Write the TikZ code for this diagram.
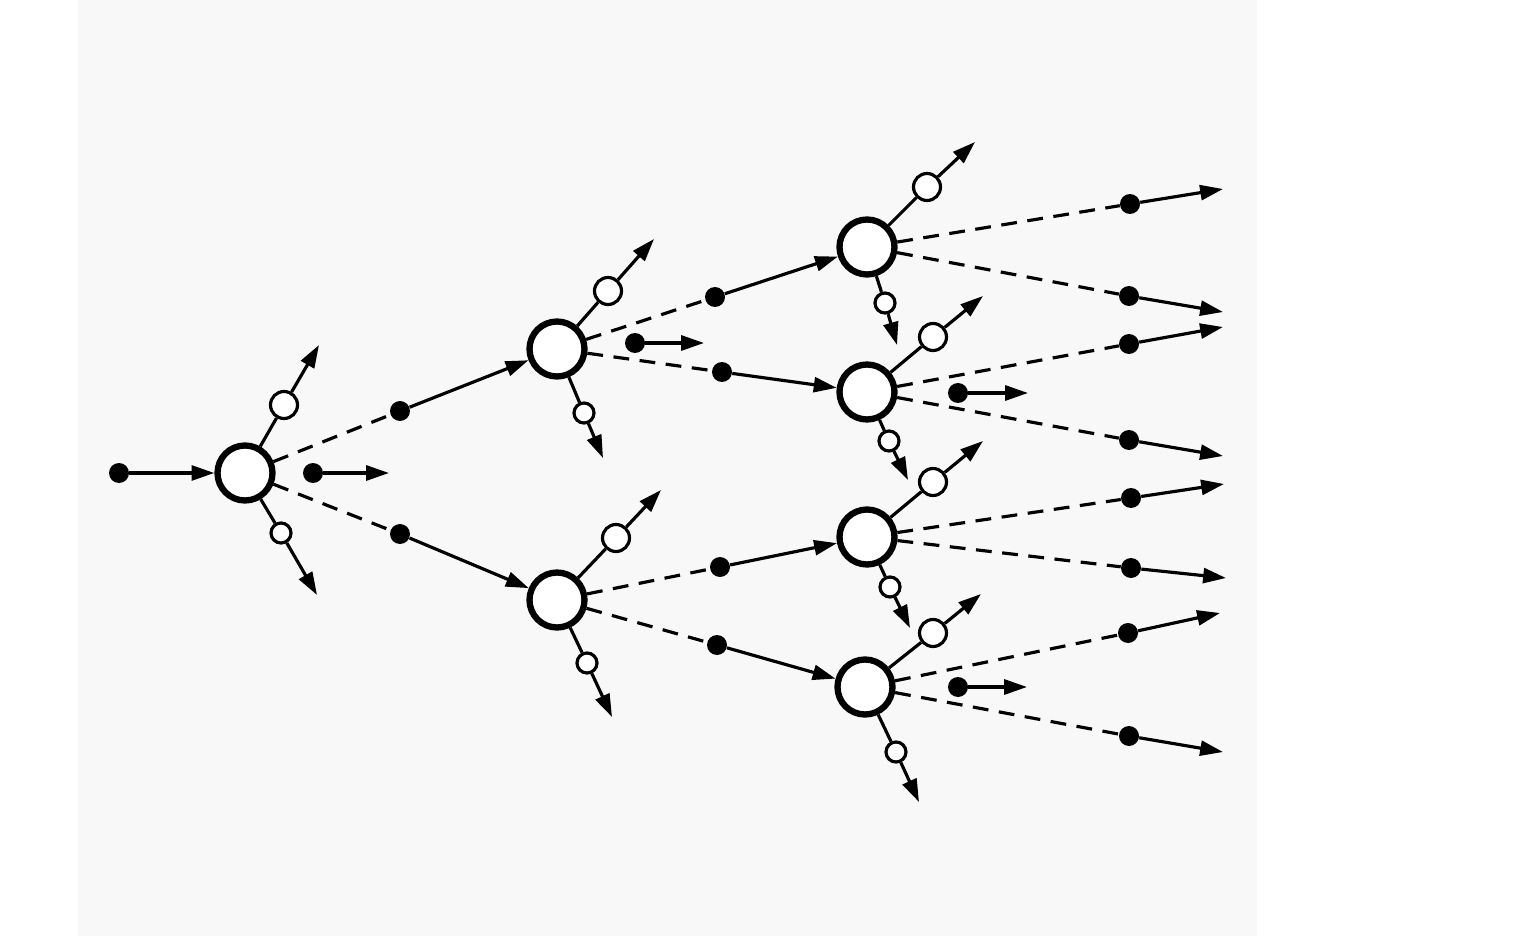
\documentclass[tikz,border=0pt]{standalone}
\usepackage{tikz}
\usetikzlibrary{arrows.meta}
\definecolor{paper}{RGB}{248,248,248}
\tikzset{
  nucleus/.style={shape=circle,draw=black,fill=white,line width=3.6pt,minimum size=1.1cm,inner sep=0pt},
  neutron/.style={shape=circle,fill=black,minimum size=0.4cm,inner sep=0pt},
  heavy/.style={shape=circle,draw=black,fill=white,line width=1.8pt,minimum size=0.54cm,inner sep=0pt},
  light/.style={shape=circle,draw=black,fill=white,line width=1.8pt,minimum size=0.4cm,inner sep=0pt},
  track/.style={line width=1.8pt,draw=black},
  flight/.style={track,-{Triangle[length=13pt,width=8.5pt]}},
  split/.style={track,dash pattern=on 9pt off 6pt}
}

\begin{document}
\begin{tikzpicture}[x=0.02cm,y=-0.02cm]
  \fill[white] (0,0) rectangle (1536,936);
  \fill[paper] (78,0) rectangle (1257,936);
  \useasboundingbox (0,0) rectangle (1536,936);
  % nuclei
  \node[nucleus] (n0) at (245,473) {};
  \node[nucleus] (n1) at (557,349) {};
  \node[nucleus] (n2) at (557,600) {};
  \node[nucleus] (n3) at (867,247) {};
  \node[nucleus] (n4) at (867,392) {};
  \node[nucleus] (n5) at (867,537) {};
  \node[nucleus] (n6) at (865,687) {};
  % fragments
  \node[heavy] (h0) at (284,405) {};  \coordinate (ha0) at (319,345);
  \node[heavy] (h1) at (608,291) {};  \coordinate (ha1) at (654,239);
  \node[heavy] (h2) at (616,538) {};  \coordinate (ha2) at (661,490);
  \node[heavy] (h3) at (927,187) {};  \coordinate (ha3) at (975,142);
  \node[heavy] (h4) at (933,337) {};  \coordinate (ha4) at (983,296);
  \node[heavy] (h5) at (933,482) {};  \coordinate (ha5) at (983,441);
  \node[heavy] (h6) at (933,633) {};  \coordinate (ha6) at (981,594);
  \node[light] (l0) at (281,533) {};  \coordinate (la0) at (317,595);
  \node[light] (l1) at (584,413) {};  \coordinate (la1) at (603,458);
  \node[light] (l2) at (587,663) {};  \coordinate (la2) at (612,717);
  \node[light] (l3) at (885,303) {};  \coordinate (la3) at (897,345);
  \node[light] (l4) at (889,441) {};  \coordinate (la4) at (908,480);
  \node[light] (l5) at (890,587) {};  \coordinate (la5) at (910,628);
  \node[light] (l6) at (896,752) {};  \coordinate (la6) at (919,802);
  % neutrons
  \node[neutron] (s0) at (119,473) {};
  \node[neutron] (d1) at (400,411) {};
  \node[neutron] (d2) at (400,534) {};
  \node[neutron] (d3) at (715,297) {};
  \node[neutron] (d4) at (722,372) {};
  \node[neutron] (d5) at (720,567) {};
  \node[neutron] (d6) at (717,645) {};
  \node[neutron] (m0) at (313,473) {};  \coordinate (ma0) at (389,473);
  \node[neutron] (m1) at (635,343) {};  \coordinate (ma1) at (704,343);
  \node[neutron] (m4) at (958,393) {};  \coordinate (ma4) at (1028,393);
  \node[neutron] (m6) at (958,687) {};  \coordinate (ma6) at (1027,687);
  \node[neutron] (e1) at (1130,204) {}; \coordinate (ea1) at (1223,189);
  \node[neutron] (e2) at (1129,296) {}; \coordinate (ea2) at (1223,312);
  \node[neutron] (e3) at (1129,344) {}; \coordinate (ea3) at (1223,327);
  \node[neutron] (e4) at (1129,440) {}; \coordinate (ea4) at (1223,456);
  \node[neutron] (e5) at (1131,498) {}; \coordinate (ea5) at (1224,484);
  \node[neutron] (e6) at (1131,568) {}; \coordinate (ea6) at (1226,578);
  \node[neutron] (e7) at (1128,633) {}; \coordinate (ea7) at (1220,613);
  \node[neutron] (e8) at (1129,736) {}; \coordinate (ea8) at (1223,752);
  % connectors
  \draw[flight] (s0) -- (n0);
  \foreach \i in {0,...,6} {
    \draw[track] (n\i) -- (h\i);
    \draw[flight] (h\i) -- (ha\i);
    \draw[track] (n\i) -- (l\i);
    \draw[flight] (l\i) -- (la\i);
  }
  \foreach \p/\d in {0/1,0/2,1/3,1/4,2/5,2/6} {
    \draw[split] (n\p) -- (d\d);
    \draw[flight] (d\d) -- (n\d);
  }
  \foreach \p/\e in {3/1,3/2,4/3,4/4,5/5,5/6,6/7,6/8} {
    \draw[split] (n\p) -- (e\e);
    \draw[flight] (e\e) -- (ea\e);
  }
  \foreach \m in {0,1,4,6}
    \draw[flight] (m\m) -- (ma\m);
\end{tikzpicture}
\end{document}
